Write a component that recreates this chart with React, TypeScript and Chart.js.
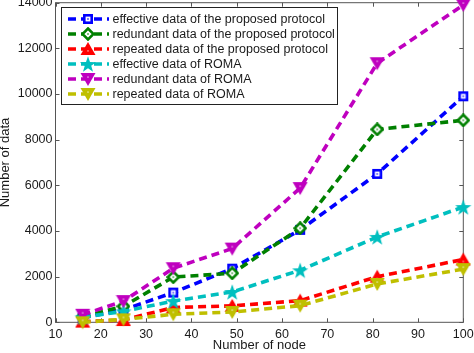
import React, { useEffect, useRef } from 'react';
import { Chart, registerables } from 'chart.js';

Chart.register(...registerables);

// ---- data ----
const nodes = [16, 25, 36, 49, 64, 81, 100];
const effectiveProposed = [200, 550, 1300, 2350, 4050, 6500, 9900];
const redundantProposed = [250, 700, 1980, 2150, 4120, 8450, 8850];
const repeatedProposed = [30, 100, 650, 720, 950, 2000, 2750];
const effectiveRoma = [220, 480, 930, 1330, 2280, 3740, 5050];
const redundantRoma = [330, 930, 2370, 3230, 5880, 11350, 13900];
const repeatedRoma = [0, 130, 350, 450, 730, 1680, 2330];

const seriesLabels = [
  'effective data of the proposed protocol',
  'redundant data of the proposed protocol',
  'repeated data of the proposed protocol',
  'effective data of ROMA',
  'redundant data of ROMA',
  'repeated data of ROMA',
];
const xTitle = 'Number of node';
const yTitle = 'Number of data';
const xMin = 10, xMax = 100, xStep = 10;
const yMin = 0, yMax = 14000, yStep = 2000;

const FONT = '"Liberation Sans", Arial, sans-serif';
const TEXT = '#1a1a1a';
const AXIS = '#555555';

type Kind = 'square' | 'diamond' | 'up' | 'star' | 'down';

function makeMarker(kind: Kind, color: string): HTMLCanvasElement {
  const c = document.createElement('canvas');
  const S = kind === 'square' ? 12 : kind === 'diamond' ? 14 : kind === 'star' ? 18 : 16;
  c.width = S; c.height = S;
  const ctx = c.getContext('2d')!;
  const m = S / 2;
  ctx.lineJoin = 'miter';
  if (kind === 'square') {
    ctx.fillStyle = '#fff';
    ctx.fillRect(2, 2, S - 4, S - 4);
    ctx.strokeStyle = color; ctx.lineWidth = 2.6;
    ctx.strokeRect(2.3, 2.3, S - 4.6, S - 4.6);
    ctx.fillStyle = color; ctx.fillRect(m - 0.7, m - 0.7, 1.4, 1.4);
  } else if (kind === 'diamond') {
    ctx.beginPath();
    ctx.moveTo(m, 1.5); ctx.lineTo(S - 1.5, m); ctx.lineTo(m, S - 1.5); ctx.lineTo(1.5, m); ctx.closePath();
    ctx.fillStyle = '#fff'; ctx.fill();
    ctx.strokeStyle = color; ctx.lineWidth = 2.6; ctx.stroke();
    ctx.fillStyle = color; ctx.fillRect(m - 0.7, m - 0.7, 1.4, 1.4);
  } else if (kind === 'up' || kind === 'down') {
    ctx.beginPath();
    if (kind === 'up') {
      ctx.moveTo(m, 1); ctx.lineTo(S - 0.5, S - 2); ctx.lineTo(0.5, S - 2);
    } else {
      ctx.moveTo(0.5, 2); ctx.lineTo(S - 0.5, 2); ctx.lineTo(m, S - 1);
    }
    ctx.closePath();
    ctx.fillStyle = color; ctx.fill();
    ctx.fillStyle = 'rgba(255,255,255,0.9)';
    const cy = kind === 'up' ? S * 0.62 : S * 0.38;
    ctx.fillRect(m - 0.6, cy - 0.6, 1.2, 1.2);
  } else {
    const R = S / 2 - 0.5, r = R * 0.4;
    ctx.beginPath();
    for (let i = 0; i < 10; i++) {
      const a = -Math.PI / 2 + (i * Math.PI) / 5;
      const rr = i % 2 === 0 ? R : r;
      const px = m + rr * Math.cos(a), py = m + 0.8 + rr * Math.sin(a);
      if (i === 0) ctx.moveTo(px, py); else ctx.lineTo(px, py);
    }
    ctx.closePath();
    ctx.fillStyle = color; ctx.fill();
  }
  return c;
}

const seriesData = [effectiveProposed, redundantProposed, repeatedProposed, effectiveRoma, redundantRoma, repeatedRoma];
const seriesColors = ['#0000ff', '#008000', '#ff0000', '#00bfbf', '#bf00bf', '#bfbf00'];
const seriesKinds: Kind[] = ['square', 'diamond', 'up', 'star', 'down', 'down'];

export default function App() {
  const ref = useRef<HTMLCanvasElement | null>(null);

  useEffect(() => {
    const canvas = ref.current!;
    const markers = seriesKinds.map((k, i) => makeMarker(k, seriesColors[i]));
    const DASH = [8, 5];
    const LW = 3.6;

    const frame = {
      id: 'frame',
      beforeDatasetsDraw(chart: any) {
        const { ctx, chartArea: a, scales } = chart;
        ctx.save();
        ctx.strokeStyle = AXIS;
        ctx.lineWidth = 1;
        ctx.strokeRect(a.left, a.top, a.right - a.left, a.bottom - a.top);
        const tl = 4;
        ctx.beginPath();
        for (let v = xMin; v <= xMax; v += xStep) {
          const x = Math.round(scales.x.getPixelForValue(v)) + 0.5;
          ctx.moveTo(x, a.bottom); ctx.lineTo(x, a.bottom - tl);
          ctx.moveTo(x, a.top); ctx.lineTo(x, a.top + tl);
        }
        for (let v = yMin; v <= yMax; v += yStep) {
          const y = Math.round(scales.y.getPixelForValue(v)) + 0.5;
          ctx.moveTo(a.left, y); ctx.lineTo(a.left + tl, y);
          ctx.moveTo(a.right, y); ctx.lineTo(a.right - tl, y);
        }
        ctx.stroke();
        ctx.restore();
      },
    };

    const legend = {
      id: 'customLegend',
      afterDraw(chart: any) {
        const { ctx } = chart;
        const bx = 61.5, by = 7.5, bw = 276, bh = 97;
        ctx.save();
        ctx.fillStyle = '#fff';
        ctx.fillRect(bx, by, bw, bh);
        ctx.strokeStyle = '#222';
        ctx.lineWidth = 1;
        ctx.strokeRect(bx, by, bw, bh);
        ctx.font = `12.5px ${FONT}`;
        ctx.textBaseline = 'middle';
        ctx.textAlign = 'left';
        seriesLabels.forEach((lab, i) => {
          const y = 19 + i * 15;
          ctx.strokeStyle = seriesColors[i];
          ctx.lineWidth = LW;
          ctx.setLineDash(DASH);
          ctx.beginPath();
          ctx.moveTo(68, y); ctx.lineTo(109, y);
          ctx.stroke();
          ctx.setLineDash([]);
          const mk = markers[i];
          ctx.drawImage(mk, 88 - mk.width / 2, y - mk.height / 2);
          ctx.fillStyle = TEXT;
          ctx.fillText(lab, 112.5, y + 0.5);
        });
        ctx.restore();
      },
    };

    const chart = new Chart(canvas, {
      type: 'line',
      data: {
        datasets: seriesData.map((vals, i) => ({
          label: seriesLabels[i],
          data: nodes.map((x, j) => ({ x, y: vals[j] })),
          borderColor: seriesColors[i],
          backgroundColor: seriesColors[i],
          borderWidth: LW,
          borderDash: DASH,
          borderCapStyle: 'butt',
          pointStyle: markers[i],
          pointRadius: 7,
          tension: 0,
          fill: false,
          clip: false,
          order: 5 - i,
        })) as any,
      },
      options: {
        animation: false,
        responsive: false,
        devicePixelRatio: 1,
        layout: { autoPadding: false, padding: { top: 2.7, right: 10.7, left: 0, bottom: 0 } },
        plugins: { legend: { display: false }, tooltip: { enabled: false } },
        scales: {
          x: {
            type: 'linear',
            min: xMin,
            max: xMax,
            grid: { display: false, drawTicks: false },
            border: { display: false },
            ticks: {
              stepSize: xStep, padding: 5, color: TEXT, font: { family: FONT, size: 12.5 },
              callback: (v: any) => String(v),
            },
            title: { display: true, text: xTitle, color: TEXT, font: { family: FONT, size: 13 }, padding: { top: 0, bottom: -0.6 } },
            afterFit(s: any) { s.height = 30.7; s.paddingLeft = 0; s.paddingRight = 0; },
          },
          y: {
            type: 'linear',
            min: yMin,
            max: yMax,
            grid: { display: false, drawTicks: false },
            border: { display: false },
            ticks: {
              stepSize: yStep, padding: 3, color: TEXT, font: { family: FONT, size: 12.5, lineHeight: 0.01 },
              callback: (v: any) => String(v),
            },
            title: { display: true, text: yTitle, color: TEXT, font: { family: FONT, size: 13 }, padding: { top: -2.3, bottom: 0 } },
            afterFit(s: any) { s.width = 55.5; s.paddingTop = 0; s.paddingBottom = 0; },
          },
        },
      } as any,
      plugins: [frame, legend],
    });
    return () => chart.destroy();
  }, []);

  return (
    <div style={{ position: 'fixed', left: 0, top: 0, width: 474, height: 353, background: '#fff' }}>
      <canvas ref={ref} width={474} height={353} style={{ display: 'block', width: 474, height: 353 }} />
    </div>
  );
}
